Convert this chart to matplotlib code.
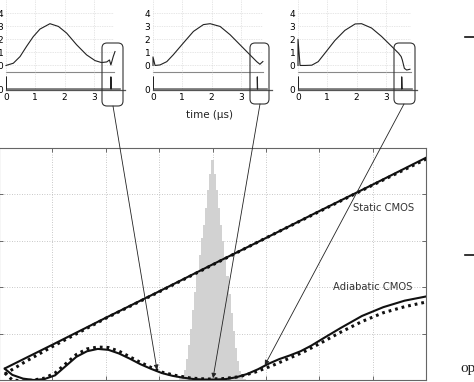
import numpy as np
import matplotlib.pyplot as plt
from matplotlib.patches import FancyBboxPatch, ConnectionPatch

# ---- main plot data (no visible tick labels, arbitrary units) ----
static_x = [0.11, 1.0, 2.0, 3.0, 4.0, 5.0, 6.0, 7.0, 8.0]
static_y = [0.25, 0.76, 1.34, 1.91, 2.49, 3.06, 3.64, 4.21, 4.79]
static_dot_x = [0.11, 0.5, 1.0, 2.0, 3.0, 4.0, 5.0, 6.0, 7.0, 8.0]
static_dot_y = [0.13, 0.4, 0.72, 1.33, 1.9, 2.48, 3.06, 3.63, 4.2, 4.76]

adia_x = [0.11, 0.25, 0.45, 0.65, 0.85, 1.05, 1.25, 1.45, 1.65, 1.85, 2.05,
          2.25, 2.45, 2.65, 2.85, 3.05, 3.25, 3.45, 3.65, 3.85, 4.05, 4.25,
          4.45, 4.65, 4.85, 5.05, 5.25, 5.45, 5.65, 5.85, 6.05, 6.4, 6.8,
          7.2, 7.6, 8.0]
adia_y = [0.24, 0.11, 0.03, 0.0, 0.02, 0.1, 0.3, 0.5, 0.62, 0.67, 0.65,
          0.57, 0.46, 0.34, 0.24, 0.15, 0.09, 0.05, 0.02, 0.01, 0.01, 0.02,
          0.06, 0.13, 0.23, 0.35, 0.45, 0.53, 0.62, 0.74, 0.88, 1.12, 1.38,
          1.57, 1.71, 1.8]
adia_dot_x = [0.11, 0.25, 0.45, 0.65, 0.85, 1.05, 1.25, 1.45, 1.65, 1.85,
              2.05, 2.25, 2.45, 2.65, 2.85, 3.05, 3.3, 3.6, 3.9, 4.2, 4.5,
              4.8, 5.1, 5.4, 5.7, 6.0, 6.4, 6.8, 7.2, 7.6, 8.0]
adia_dot_y = [0.15, 0.0, -0.02, 0.0, 0.04, 0.15, 0.35, 0.55, 0.67, 0.71,
              0.7, 0.62, 0.5, 0.38, 0.27, 0.17, 0.1, 0.04, 0.02, 0.03, 0.07,
              0.17, 0.3, 0.45, 0.6, 0.78, 1.03, 1.26, 1.45, 1.58, 1.68]

hist_x = [3.40, 3.44, 3.48, 3.52, 3.56, 3.60, 3.64, 3.68, 3.72, 3.76, 3.80,
          3.84, 3.88, 3.92, 3.96, 4.00, 4.04, 4.08, 4.12, 4.16, 4.20, 4.24,
          4.28, 4.32, 4.36, 4.40, 4.44, 4.48, 4.52, 4.56, 4.60]
hist_h = [0.04, 0.1, 0.22, 0.45, 0.75, 1.1, 1.5, 1.9, 2.3, 2.7, 3.05,
          3.35, 3.7, 4.1, 4.45, 4.74, 4.45, 4.1, 3.7, 3.35, 3.0, 2.65,
          2.25, 1.85, 1.45, 1.05, 0.7, 0.42, 0.2, 0.09, 0.03]

# ---- inset waveforms (time in us) ----
wave1_t = [0, 0.25, 0.48, 0.7, 0.93, 1.16, 1.5, 1.79, 2.07, 2.41, 2.75,
           3.04, 3.26, 3.44, 3.53, 3.58, 3.66, 3.72]
wave1_v = [0.0, 0.17, 0.68, 1.45, 2.2, 2.78, 3.19, 2.98, 2.47, 1.58, 0.81,
           0.37, 0.22, 0.27, 0.42, 0.04, 0.68, 1.06]
wave2_t = [0, 0.0, 0.07, 0.24, 0.47, 0.69, 1.03, 1.38, 1.72, 1.95, 2.29,
           2.63, 2.97, 3.31, 3.54, 3.65, 3.7, 3.75]
wave2_v = [0.0, 0.65, 0.0, 0.04, 0.29, 0.81, 1.7, 2.6, 3.12, 3.19, 2.98,
           2.35, 1.58, 0.81, 0.29, 0.09, 0.2, 0.3]
wave3_t = [0, 0.0, 0.07, 0.24, 0.47, 0.69, 0.92, 1.26, 1.6, 1.95, 2.17,
           2.51, 2.85, 3.2, 3.43, 3.52, 3.56, 3.63, 3.71, 3.82]
wave3_v = [0.0, 2.0, 0.0, 0.0, 0.02, 0.29, 0.94, 1.91, 2.68, 3.17, 3.19,
           2.86, 2.22, 1.45, 0.94, 0.68, 0.42, -0.22, -0.35, -0.29]
spike_t = [3.58, 3.56, 3.54]
waves = [(wave1_t, wave1_v), (wave2_t, wave2_v), (wave3_t, wave3_v)]

W, H = 474, 382
fig = plt.figure(figsize=(4.74, 3.82), dpi=100)


def px_box(x0, y0, w, h):
    # pixel box (top-left origin) -> figure fraction
    return [x0 / W, 1 - (y0 + h) / H, w / W, h / H]


# ---- main axes ----
ax = fig.add_axes(px_box(-1, 148, 427, 232))
ax.set_xlim(0, 8)
ax.set_ylim(0, 5)
ax.set_xticks(np.arange(0, 9))
ax.set_yticks(np.arange(0, 6))
ax.set_xticklabels([])
ax.set_yticklabels([])
ax.tick_params(direction='in', length=3, width=0.6, color='#555',
               top=True, right=True)
ax.grid(True, color='#b5b5b5', linestyle=(0, (1, 2)), linewidth=0.6)
ax.set_axisbelow(True)
for s in ax.spines.values():
    s.set_color('#666')
    s.set_linewidth(0.8)

ax.bar(hist_x, hist_h, width=0.04, color='#d2d2d2', edgecolor='none', zorder=1.5)
ax.plot(static_x, static_y, color='#111', lw=1.5, zorder=3)
ax.plot(static_dot_x, static_dot_y, color='#111', lw=2.2,
        linestyle=(0, (0.9, 1.3)), zorder=3)
ax.plot(adia_x, adia_y, color='#111', lw=1.5, zorder=3)
ax.plot(adia_dot_x, adia_dot_y, color='#111', lw=2.2,
        linestyle=(0, (0.9, 1.3)), zorder=3)

ax.text(7.21, 3.71, 'Static CMOS', ha='center', va='center', fontsize=7.2,
        color='#333', zorder=4)
ax.text(7.0, 2.0, 'Adiabatic CMOS', ha='center', va='center', fontsize=7.2,
        color='#333', zorder=4)

# ---- insets ----
t0_px = [6, 153, 298]
scale = 29.3
up_xmax = [3.7, 3.75, 3.85]
for k in range(3):
    t, v = waves[k]
    up = fig.add_axes(px_box(t0_px[k], 0, up_xmax[k] * scale, 72))
    up.set_xlim(0, up_xmax[k])
    up.set_ylim(-0.5, 5.0)
    up.plot(t, v, color='#222', lw=0.8, clip_on=False)
    up.set_xticks([0, 1, 2, 3])
    up.set_yticks([0, 1, 2, 3, 4])
    up.set_xticklabels([])
    up.tick_params(length=0, labelsize=6.5, pad=2)
    up.grid(True, color='#cfcfcf', linestyle=(0, (1, 1.5)), linewidth=0.5)
    for name, s in up.spines.items():
        s.set_visible(name == 'bottom')
        s.set_color('#888')
        s.set_linewidth(0.8)
    up.patch.set_alpha(0)

    lo = fig.add_axes(px_box(t0_px[k], 72, 4.05 * scale, 18))
    lo.set_xlim(0, 4.05)
    lo.set_ylim(-0.08, 1.4)
    lo.plot([0, 0, 0, 0.03, spike_t[k], spike_t[k], spike_t[k] + 0.01, 3.9],
            [0, 1.0, 0, 0, 0, 1.0, 0, 0], color='#222', lw=0.8)
    lo.set_xticks([0, 1, 2, 3])
    lo.set_yticks([0])
    lo.tick_params(length=0, labelsize=6.5, pad=2)
    lo.grid(True, axis='x', color='#cfcfcf', linestyle=(0, (1, 1.5)),
            linewidth=0.5)
    for name, s in lo.spines.items():
        s.set_visible(name == 'bottom')
        s.set_color('#555')
        s.set_linewidth(0.9)
    lo.patch.set_alpha(0)

fig.text(210 / W, 1 - 115 / H, 'time (\u00b5s)', ha='center', va='center',
         fontsize=7.5, color='#222')

# ---- overlay: rounded boxes, arrows, page fragments ----
ov = fig.add_axes([0, 0, 1, 1], zorder=10)
ov.set_xlim(0, W)
ov.set_ylim(H, 0)
ov.axis('off')
ov.patch.set_alpha(0)

boxes = [(102, 43, 21, 63), (250, 43, 19, 61), (394, 43, 21, 61)]
for bx, by, bw, bh in boxes:
    ov.add_patch(FancyBboxPatch((bx, by), bw, bh,
                                boxstyle='round,pad=0,rounding_size=5',
                                fill=False, ec='#333', lw=0.8))

arrow_from = [(113, 106), (260, 104), (404, 104)]
arrow_to = [(2.96, 0.22), (4.01, 0.04), (4.98, 0.32)]
for a, b in zip(arrow_from, arrow_to):
    fig.add_artist(ConnectionPatch(xyA=a, coordsA=ov.transData,
                                   xyB=b, coordsB=ax.transData,
                                   arrowstyle='-|>', mutation_scale=7,
                                   lw=0.6, color='#222', zorder=12))

ov.plot([465, 474], [37, 37], color='#111', lw=1.2)
ov.plot([465, 474], [255, 255], color='#111', lw=1.2)
ov.text(460, 372, 'op', fontsize=11, family='Liberation Serif',
        va='baseline', ha='left', color='#222')

fig.savefig('out.png', dpi=100)
